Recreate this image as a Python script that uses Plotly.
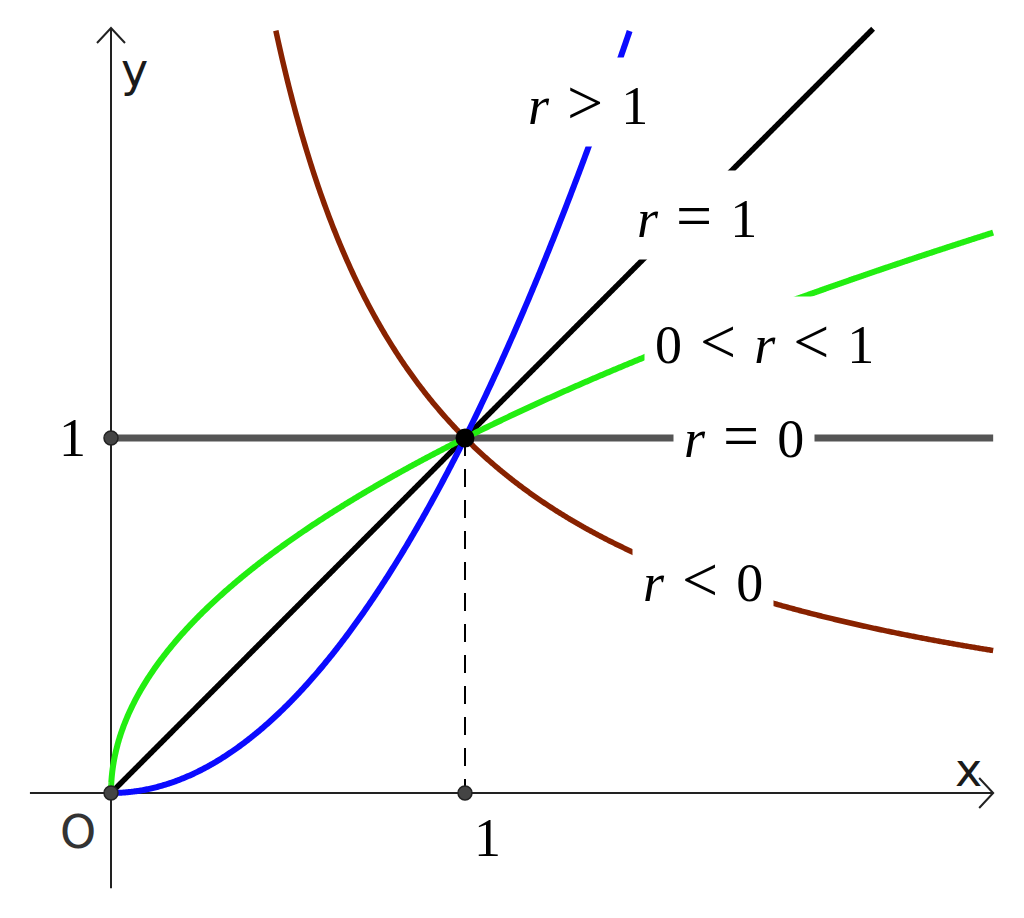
import numpy as np
import plotly.graph_objects as go

# y = x^r for a few exponents
exponents = [2, 1, 0.5, 0, -1]
curve_colors = ["#0b0bff", "#000000", "#22ee11", "#555555", "#882200"]
curve_widths = [6, 5.5, 6, 7, 5.5]


def rel(sym):
    # relation symbols drawn a bit larger and wider spaced, like TeX math
    return f"\u200a<span style='font-size:64px'>{sym}</span>\u200a"


curve_labels = [f"<i>r</i> {rel('&gt;')} 1", f"<i>r</i> {rel('=')} 1",
                f"0 {rel('&lt;')} <i>r</i> {rel('&lt;')} 1", f"<i>r</i> {rel('=')} 0",
                f"<i>r</i> {rel('&lt;')} 0"]
label_x = [1.347, 1.655, 1.845, 1.788, 1.672]
label_y = [1.946, 1.628, 1.273, 1.008, 0.604]

# marked points on the axes
point_x = [0, 0, 1]
point_y = [0, 1, 0]
tick_text = ["O", "1", "1"]

X_MIN, X_MAX = -0.229, 2.492   # drawn extent of the x axis
Y_MIN, Y_MAX = -0.268, 2.155   # drawn extent of the y axis

W, H = 1024, 918
PX = 354.0   # pixels per unit, x
PY = 355.0   # pixels per unit, y
OX, OY = 111, 793  # pixel of the origin

fig = go.Figure()

# axes
axis_line = dict(color="#222222", width=2)
fig.add_trace(go.Scatter(x=[X_MIN, X_MAX], y=[0, 0], mode="lines", line=axis_line, hoverinfo="skip"))
fig.add_trace(go.Scatter(x=[0, 0], y=[Y_MIN, Y_MAX], mode="lines", line=axis_line, hoverinfo="skip"))
# open arrow heads
ax_ = 14 / PX
ay_ = 15 / PY
fig.add_trace(go.Scatter(x=[X_MAX - ax_, X_MAX, X_MAX - ax_], y=[ay_, 0, -ay_], mode="lines",
                         line=axis_line, hoverinfo="skip"))
fig.add_trace(go.Scatter(x=[-14 / PX, 0, 14 / PX], y=[Y_MAX - ay_, Y_MAX, Y_MAX - ay_], mode="lines",
                         line=axis_line, hoverinfo="skip"))

# dashed drop line from (1,1)
fig.add_trace(go.Scatter(x=[1, 1], y=[1, 0], mode="lines",
                         line=dict(color="#000000", width=2, dash="18px,13px"), hoverinfo="skip"))

# curves
xs = np.concatenate([[0.0], np.geomspace(1e-6, 0.05, 200), np.linspace(0.05, X_MAX, 800)])
draw_order = [3, 4, 1, 0, 2]
for i in draw_order:
    r = exponents[i]
    if r == 0:
        ys = np.ones_like(xs)
    else:
        with np.errstate(divide="ignore"):
            ys = np.where(xs > 0, np.power(xs, float(r)), 0.0 if r > 0 else np.inf)
    mask = ys <= Y_MAX
    fig.add_trace(go.Scatter(x=xs[mask], y=ys[mask], mode="lines",
                             line=dict(color=curve_colors[i], width=curve_widths[i], simplify=False),
                             hoverinfo="skip"))

# points
fig.add_trace(go.Scatter(x=point_x, y=point_y, mode="markers",
                         marker=dict(size=14, color="#444444", line=dict(color="#222222", width=1.5)),
                         hoverinfo="skip"))
fig.add_trace(go.Scatter(x=[1], y=[1], mode="markers",
                         marker=dict(size=19, color="#000000"), hoverinfo="skip"))

# curve labels, white boxes cut the curves
for txt, lx, ly in zip(curve_labels, label_x, label_y):
    fig.add_annotation(x=lx, y=ly, text=txt, showarrow=False,
                       xanchor="center", yanchor="middle",
                       font=dict(family="Liberation Serif", size=54, color="#000000"),
                       bgcolor="#ffffff", borderpad=10, height=68)

# axis names and tick labels
fig.add_annotation(x=(968 - OX) / PX, y=(OY - 770) / PY, text="x", showarrow=False,
                   font=dict(family="DejaVu Sans", size=46, color="#1a1a1a"))
fig.add_annotation(x=(134 - OX) / PX, y=(OY - 70) / PY, text="y", showarrow=False,
                   font=dict(family="DejaVu Sans", size=46, color="#1a1a1a"))
fig.add_annotation(x=(78 - OX) / PX, y=(OY - 832) / PY, text=tick_text[0], showarrow=False,
                   font=dict(family="DejaVu Sans", size=46, color="#333333"))
fig.add_annotation(x=(72 - OX) / PX, y=point_y[1], text=tick_text[1], showarrow=False,
                   font=dict(family="Liberation Serif", size=54, color="#000000"))
fig.add_annotation(x=(487 - OX) / PX, y=(OY - 838) / PY, text=tick_text[2], showarrow=False,
                   font=dict(family="Liberation Serif", size=54, color="#000000"))

fig.update_layout(
    width=W, height=H,
    margin=dict(l=0, r=0, t=0, b=0, pad=0),
    paper_bgcolor="#ffffff", plot_bgcolor="#ffffff",
    showlegend=False,
    xaxis=dict(range=[-OX / PX, (W - OX) / PX], visible=False, fixedrange=True),
    yaxis=dict(range=[(OY - H) / PY, OY / PY], visible=False, fixedrange=True),
)

fig.write_html("out.html", config={"displayModeBar": False},
               post_script="document.body.style.margin='0';")
